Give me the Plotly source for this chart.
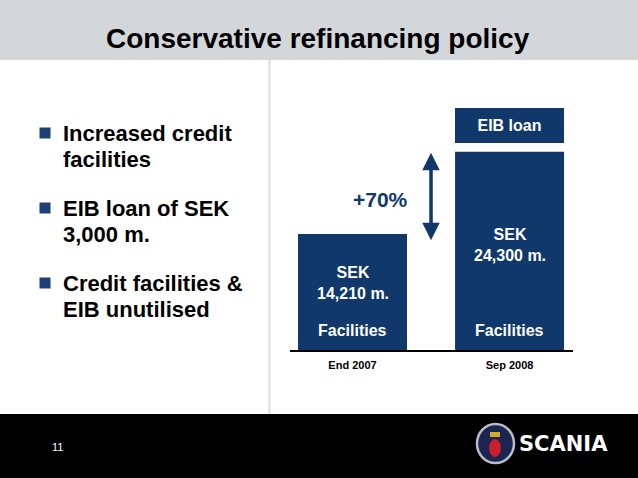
import plotly.graph_objects as go

# ---- data ----
PERIODS = ["End 2007", "Sep 2008"]
FACILITIES = [14210, 24300]          # SEK m.
FACILITY_LABELS = ["SEK<br>14,210 m.", "SEK<br>24,300 m."]
EIB_LOAN = 3000                      # SEK m.
GROWTH_LABEL = "+70%"
TITLE = "Conservative refinancing policy"
BULLETS = [["Increased credit", "facilities"],
           ["EIB loan of SEK", "3,000 m."],
           ["Credit facilities &", "EIB unutilised"]]
PAGE_NO = "11"

# ---- layout constants ----
W, H = 638, 478
L, R, T, B = 290, 65, 100, 128
PW, PH = W - L - R, H - T - B
YMAX = 30656
NAVY = "#10386b"
FONT = "Liberation Sans, Arial, sans-serif"


def px(x):
    return (x - L) / PW


def py(y):
    return (H - B - y) / PH


def ydata(y):
    return (H - B - y) / PH * YMAX


fig = go.Figure()
fig.add_trace(go.Bar(
    x=[0, 1], y=FACILITIES, width=0.694,
    marker=dict(color=NAVY, line=dict(width=0)),
    hoverinfo="skip",
))

shapes = []
# header band
shapes.append(dict(type="rect", xref="paper", yref="paper",
                   x0=px(0), x1=px(W), y0=py(60), y1=py(0),
                   fillcolor="#d4d7da", line=dict(width=0), layer="below"))
# vertical separator
shapes.append(dict(type="line", xref="paper", yref="paper",
                   x0=px(269.5), x1=px(269.5), y0=py(60), y1=py(414),
                   line=dict(color="#e6e6e6", width=3), layer="below"))
# footer
shapes.append(dict(type="rect", xref="paper", yref="paper",
                   x0=px(0), x1=px(W), y0=py(H), y1=py(414),
                   fillcolor="#000000", line=dict(width=0), layer="below"))
# bullets squares
for i in range(len(BULLETS)):
    cy = 133 + 75 * i
    shapes.append(dict(type="rect", xref="paper", yref="paper",
                       x0=px(39.5), x1=px(50.5), y0=py(cy + 5.5), y1=py(cy - 5.5),
                       fillcolor="#1c3f75", line=dict(width=0)))
# logo emblem
shapes.append(dict(type="circle", xref="paper", yref="paper",
                   x0=px(477), x1=px(514), y0=py(463), y1=py(424),
                   fillcolor="#1b2550", line=dict(color="#b9bdc9", width=2.5)))
shapes.append(dict(type="circle", xref="paper", yref="paper",
                   x0=px(489), x1=px(501), y0=py(457), y1=py(439),
                   fillcolor="#c8202f", line=dict(width=0)))
shapes.append(dict(type="rect", xref="paper", yref="paper",
                   x0=px(490), x1=px(500), y0=py(437), y1=py(432),
                   fillcolor="#d8a828", line=dict(width=0)))


def text_ann(text, x, y, size, color="black", xanchor="center", family=FONT):
    return dict(text=text, xref="paper", yref="paper", x=px(x), y=py(y),
                xanchor=xanchor, yanchor="middle", showarrow=False,
                font=dict(family=family, size=size, color=color))


ann = []
ann.append(text_ann("<b>" + TITLE + "</b>", 318, 38, 28))
for i, lines in enumerate(BULLETS):
    for j, line in enumerate(lines):
        ann.append(text_ann("<b>" + line + "</b>", 61, 133 + 75 * i + 26.5 * j, 22,
                            xanchor="left"))
# bar labels
label_y = [282.5, 245]
for i in range(2):
    ann.append(dict(text="<b>" + FACILITY_LABELS[i] + "</b>", x=i, y=ydata(label_y[i]),
                    xref="x", yref="y", xanchor="center", yanchor="middle",
                    showarrow=False,
                    font=dict(family=FONT, size=16, color="white")))
    ann.append(dict(text="<b>Facilities</b>", x=i, y=ydata(330),
                    xref="x", yref="y", xanchor="center", yanchor="middle",
                    showarrow=False,
                    font=dict(family=FONT, size=16, color="white")))
# EIB loan box (callout above the Sep 2008 bar)
ann.append(dict(text="<b>EIB loan</b>", x=1, y=ydata(125.5),
                xref="x", yref="y", xanchor="center", yanchor="middle",
                showarrow=False,
                width=109, height=35, borderpad=0, borderwidth=0,
                bgcolor=NAVY, valign="middle",
                font=dict(family=FONT, size=16, color="white")))
# growth arrow
ann.append(dict(text="", x=0.5, y=FACILITIES[1] - 100, ax=0.5, ay=FACILITIES[0] - 950,
                xref="x", yref="y", axref="x", ayref="y",
                showarrow=True, arrowhead=2, startarrowhead=2,
                arrowside="end+start", arrowwidth=3.5, arrowsize=1,
                startarrowsize=1, arrowcolor=NAVY, standoff=0, startstandoff=0))
ann.append(dict(text="<b>" + GROWTH_LABEL + "</b>", x=0.181, y=ydata(199),
                xref="x", yref="y", xanchor="center", yanchor="middle",
                showarrow=False,
                font=dict(family=FONT, size=21, color=NAVY)))
# footer
ann.append(text_ann(PAGE_NO, 57, 447, 11, color="white"))
ann.append(text_ann("<b>SCANIA</b>", 517, 444, 21, color="white", xanchor="left",
                    family="DejaVu Sans, sans-serif"))

fig.update_layout(
    width=W, height=H, autosize=False,
    margin=dict(l=L, r=R, t=T, b=B, pad=0),
    paper_bgcolor="white", plot_bgcolor="white",
    showlegend=False, shapes=shapes, annotations=ann,
    xaxis=dict(range=[-0.398, 1.404], tickvals=[0, 1], ticktext=PERIODS,
               showline=True, linecolor="black", linewidth=2,
               showgrid=False, zeroline=False, ticks="", fixedrange=True,
               ticklabelstandoff=4,
               tickfont=dict(family=FONT, size=11, color="black", weight="bold")),
    yaxis=dict(range=[0, YMAX], visible=False, fixedrange=True),
)

fig.write_html("out.html", config={"displayModeBar": False})
